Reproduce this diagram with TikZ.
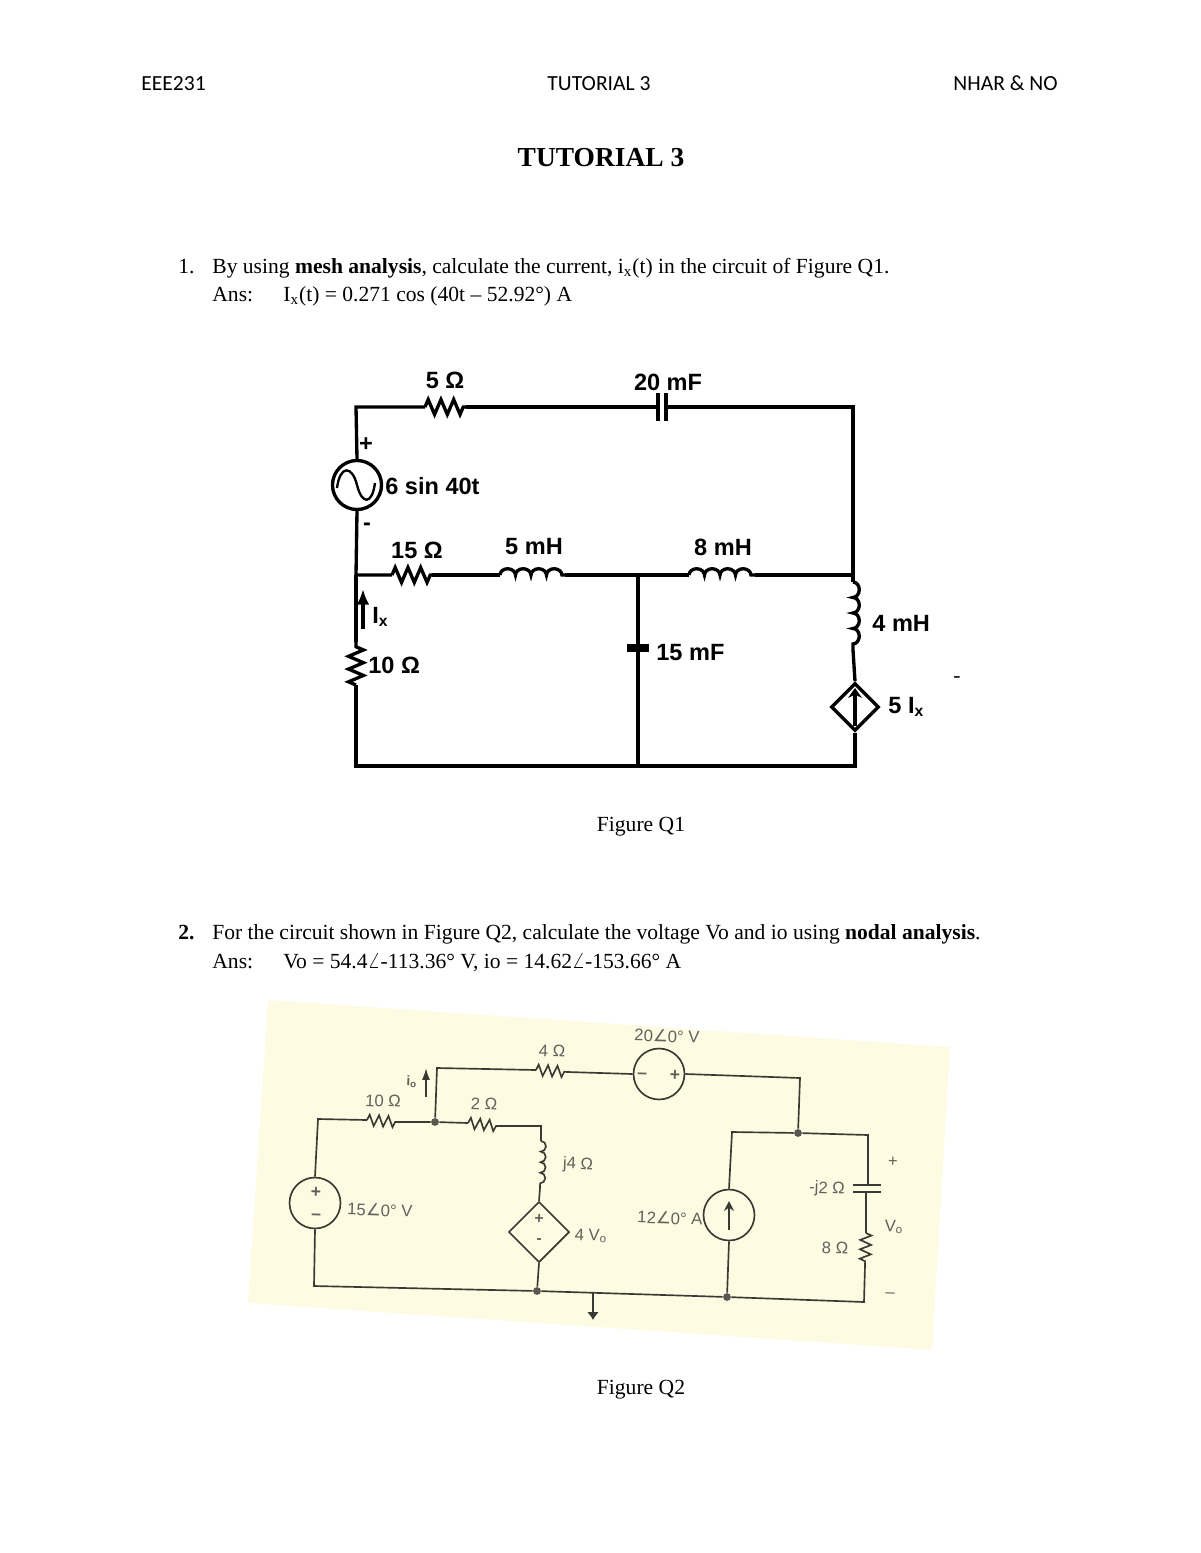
\documentclass[tikz,border=0pt]{standalone}
\usepackage{fontspec}
\setmainfont{Liberation Serif}
\setsansfont{Liberation Sans}
\newfontfamily\headfont{Carlito}
\newfontfamily\symfont{DejaVu Sans}
\usetikzlibrary{shapes.geometric,decorations.pathmorphing,arrows.meta}
\definecolor{paper}{HTML}{FDFCE2}
\definecolor{scanink}{HTML}{3A3A34}
\newcommand{\ang}{{\symfont ∠}}
\tikzset{
    txt/.style={inner sep=0pt,anchor=base west,font=\fontsize{11}{13}\selectfont},
    mid/.style={txt,anchor=base},
    head/.style={inner sep=0pt,anchor=base,font=\headfont\fontsize{11}{13}\selectfont},
    lab/.style={inner sep=0pt,font=\sffamily\bfseries\fontsize{12}{14}\selectfont},
    wire/.style={line width=1.7pt,black,line join=miter},
    res/.style={wire,decorate,decoration={zigzag,segment length=6.5pt,amplitude=3.8pt}},
    ind/.style={wire,decorate,decoration={bumps,segment length=15.8pt,amplitude=3.2pt}},
    src/.style={circle,draw,line width=1.7pt,minimum size=25pt,inner sep=0pt},
    dep/.style={diamond,draw,line width=1.7pt,minimum size=25pt,inner sep=0pt},
    scan/.style={line width=0.85pt,scanink},
    sres/.style={scan,decorate,decoration={zigzag,segment length=4.8pt,amplitude=2.8pt}},
    sind/.style={scan,decorate,decoration={bumps,segment length=10.8pt,amplitude=2.6pt}},
    ssrc/.style={circle,draw=scanink,line width=0.85pt,minimum size=26pt,inner sep=0pt},
    sdep/.style={diamond,draw=scanink,line width=0.85pt,minimum size=31pt,inner sep=0pt},
    sdot/.style={circle,fill=scanink!85,minimum size=4pt,inner sep=0pt},
    slab/.style={inner sep=0pt,text=scanink!80,rotate=-2,font=\sffamily\fontsize{8.5}{10}\selectfont}
}
\begin{document}
\begin{tikzpicture}[x=0.51pt,y=-0.51pt]
        \useasboundingbox (0,0) rectangle (1200,1553);
        \node[head,anchor=base west] (hdrL) at (141,91) {EEE231};
        \node[head] (hdrC) at (599,91) {TUTORIAL 3};
        \node[head,anchor=base east] (hdrR) at (1058,91) {NHAR \& NO};
        \node[mid,font=\bfseries\fontsize{14}{16}\selectfont] (title) at (601,167) {TUTORIAL 3};
        \node[txt] (numA) at (178,273) {1.};
        \node[txt] (lineA) at (212,273) {By using \textbf{mesh analysis}, calculate the current, i\textsubscript{x}(t) in the circuit of Figure Q1.};
        \node[txt] (ansA) at (212,301) {Ans:};
        \node[txt] (valA) at (283,301) {I\textsubscript{x}(t) = 0.271 cos (40t -- 52.92°) A};
        \node[mid] (figA) at (641,831) {Figure Q1};
        \node[txt] (numB) at (178,939) {\textbf{2.}};
        \node[txt] (lineB) at (212,939) {For the circuit shown in Figure Q2, calculate the voltage Vo and io using \textbf{nodal analysis}.};
        \node[txt] (ansB) at (212,968) {Ans:};
        \node[txt] (valB) at (283,968) {Vo = 54.4$\angle$-113.36° V, io = 14.62$\angle$-153.66° A};
        \node[mid] (figB) at (641,1394) {Figure Q2};
        \node[txt,anchor=center] (dash) at (957,680) {-};

        \coordinate (tl) at (356,407);
        \coordinate (tr) at (853,407);
        \coordinate (bl) at (356,766);
        \coordinate (br) at (855,766);
        \coordinate (jl) at (356,575);
        \coordinate (jm) at (638,575);
        \coordinate (jr) at (853,575);
        \coordinate (jb) at (638,766);
        \coordinate (r5a) at (425,407);
        \coordinate (r5b) at (466,407);
        \coordinate (c20a) at (658,407);
        \coordinate (c20b) at (666,407);
        \coordinate (r15a) at (392,575);
        \coordinate (r15b) at (432,575);
        \coordinate (l5a) at (500,575);
        \coordinate (l5b) at (565,575);
        \coordinate (l8a) at (689,575);
        \coordinate (l8b) at (755,575);
        \coordinate (l4a) at (853,582);
        \coordinate (l4b) at (853,650);
        \coordinate (r10a) at (356,642);
        \coordinate (r10b) at (356,685);
        \coordinate (c15a) at (638,648);
        \coordinate (ixa) at (363,629);
        \coordinate (ixb) at (363,589);
        \node[src] (vac) at (357,485) {};
        \node[dep,minimum size=24.5pt] (dcs) at (855,707) {};
        \draw[wire] (vac.north) -- (tl) -- (r5a);
        \draw[res] (r5a) -- (r5b);
        \draw[wire] (r5b) -- (c20a);
        \draw[wire,line width=2.2pt] ([yshift=7pt]c20a) -- ([yshift=-7pt]c20a);
        \draw[wire,line width=2.2pt] ([yshift=7pt]c20b) -- ([yshift=-7pt]c20b);
        \draw[wire] (c20b) -- (tr) -- (jr);
        \draw[wire] (vac.south) -- (jl) -- (r15a);
        \draw[res] (r15a) -- (r15b);
        \draw[wire] (r15b) -- (l5a);
        \draw[ind] (l5a) -- (l5b);
        \draw[wire] (l5b) -- (jm) -- (l8a);
        \draw[ind] (l8a) -- (l8b);
        \draw[wire] (l8b) -- (jr) -- (l4a);
        \draw[ind] (l4a) -- (l4b);
        \draw[wire] (l4b) -- (dcs.north);
        \draw[wire] (dcs.south) -- (br) -- (bl) -- (r10b);
        \draw[res] (r10b) -- (r10a);
        \draw[wire] (r10a) -- (jl);
        \draw[wire] (jm) -- (c15a) -- (jb);
        \draw[wire,line width=4pt] ([xshift=-5.6pt]c15a) -- ([xshift=5.6pt]c15a);
        \draw[wire,-{Latex[length=8pt,width=6.5pt]}] (ixa) -- (ixb);
        \draw[wire,line width=1.2pt] (337,488) .. controls (340,465) and (352,465) .. (357,485) .. controls (362,505) and (372,505) .. (375,483);
        \draw[wire,-{Stealth[length=5pt,width=7pt]}] (855,726) -- (855,688);
        \node[lab] (lblr5) at (445,380) {5 Ω};
        \node[lab] (lblc20) at (668,382) {20 mF};
        \node[lab] (lblp) at (366,445) {+};
        \node[lab] (lblm) at (367,527) {-};
        \node[lab,anchor=west] (lblv) at (385,486) {6 sin 40t};
        \node[lab] (lblr15) at (417,550) {15 Ω};
        \node[lab] (lbll5) at (534,547) {5 mH};
        \node[lab] (lbll8) at (723,547) {8 mH};
        \node[lab,anchor=west] (lbll4) at (872,623) {4 mH};
        \node[lab,anchor=west] (lblc15) at (656,653) {15 mF};
        \node[lab,anchor=west] (lbldcs) at (888,707) {5 I\textsubscript{x}};
        \node[lab,anchor=west] (lblix) at (372,617) {I\textsubscript{x}};
        \node[lab,anchor=west] (lblr10) at (368,665) {10 Ω};

        \fill[paper] (268,1000) -- (950,1047) -- (932,1350) -- (248,1303) -- cycle;
        \coordinate (tlb) at (318,1119);
        \coordinate (blb) at (314,1286);
        \coordinate (r10p) at (367,1120);
        \coordinate (r10q) at (397,1122);
        \node[sdot] (ja) at (435,1122) {};
        \coordinate (topa) at (437,1068);
        \coordinate (r4p) at (536,1070);
        \coordinate (r4q) at (568,1072);
        \coordinate (r2p) at (468,1123);
        \coordinate (r2q) at (497,1126);
        \coordinate (tlr) at (541,1126);
        \coordinate (lj4p) at (541,1141);
        \coordinate (lj4q) at (540,1188);
        \node[sdot] (jc) at (537,1291) {};
        \node[sdot] (jd) at (798,1133) {};
        \node[sdot] (je) at (727,1297) {};
        \coordinate (trb) at (800,1078);
        \coordinate (cs) at (732,1132);
        \coordinate (rtop) at (868,1135);
        \coordinate (cpa) at (868,1185);
        \coordinate (cpb) at (866,1192);
        \coordinate (r8p) at (866,1233);
        \coordinate (r8q) at (865,1265);
        \coordinate (brb) at (864,1302);
        \coordinate (gnda) at (593,1293);
        \coordinate (gndb) at (593,1320);
        \coordinate (ioa) at (426,1097);
        \coordinate (iob) at (426,1068);
        \coordinate (arra) at (729,1230);
        \coordinate (arrb) at (729,1201);
        \node[ssrc] (vs) at (315,1203) {};
        \node[ssrc] (vt) at (659,1074) {};
        \node[ssrc] (is) at (729,1215) {};
        \node[sdep] (vd) at (539,1232) {};
        \draw[scan] (vs.north) -- (tlb) -- (r10p);
        \draw[sres] (r10p) -- (r10q);
        \draw[scan] (r10q) -- (ja) -- (r2p);
        \draw[sres] (r2p) -- (r2q);
        \draw[scan] (r2q) -- (tlr) -- (lj4p);
        \draw[sind] (lj4p) -- (lj4q);
        \draw[scan] (lj4q) -- (vd.north);
        \draw[scan] (vd.south) -- (jc);
        \draw[scan] (ja) -- (topa) -- (r4p);
        \draw[sres] (r4p) -- (r4q);
        \draw[scan] (r4q) -- (vt.west);
        \draw[scan] (vt.east) -- (trb) -- (jd);
        \draw[scan] (is.north) -- (cs) -- (jd) -- (rtop) -- (cpa);
        \draw[scan,line width=1pt] (853,1185) -- (881,1185);
        \draw[scan,line width=1pt] (853,1192) -- (881,1192);
        \draw[scan] (cpb) -- (r8p);
        \draw[sres] (r8p) -- (r8q);
        \draw[scan] (r8q) -- (brb) -- (je) -- (jc) -- (blb) -- (vs.south);
        \draw[scan] (is.south) -- (je);
        \draw[scan,-{Latex[length=4pt,width=6pt]}] (gnda) -- (gndb);
        \draw[scan,-{Latex[length=6pt,width=4pt]}] (ioa) -- (iob);
        \draw[scan,-{Stealth[length=5pt,width=5pt]}] (arra) -- (arrb);
        \node[slab] (tr10) at (383,1101) {10 Ω};
        \node[slab] (tr2) at (484,1104) {2 Ω};
        \node[slab] (tr4) at (552,1051) {4 Ω};
        \node[slab,font=\sffamily\bfseries\fontsize{7}{9}\selectfont] (tio) at (412,1082) {i\textsubscript{o}};
        \node[slab] (tlj4) at (578,1165) {j4 Ω};
        \node[slab] (tvs) at (380,1210) {15\ang0° V};
        \node[slab] (tvd) at (591,1236) {4 V\textsubscript{o}};
        \node[slab] (tvt) at (667,1036) {20\ang0° V};
        \node[slab] (tis) at (670,1218) {12\ang0° A};
        \node[slab] (tc) at (827,1189) {-j2 Ω};
        \node[slab] (tr8) at (835,1248) {8 Ω};
        \node[slab] (tvp) at (893,1162) {+};
        \node[slab] (tvo) at (894,1227) {V\textsubscript{o}};
        \node[slab] (tvm) at (890,1295) {--};
        \node[slab,font=\sffamily\bfseries\fontsize{9}{10}\selectfont] (pvs) at (316,1192) {+};
        \node[slab,font=\sffamily\bfseries\fontsize{9}{10}\selectfont] (mvs) at (316,1217) {--};
        \node[slab,font=\sffamily\bfseries\fontsize{8}{10}\selectfont] (pvd) at (539,1219) {+};
        \node[slab,font=\sffamily\bfseries\fontsize{8}{10}\selectfont] (mvd) at (539,1241) {-};
        \node[slab,font=\sffamily\bfseries\fontsize{9}{10}\selectfont] (mvt) at (642,1076) {--};
        \node[slab,font=\sffamily\bfseries\fontsize{9}{10}\selectfont] (pvt) at (675,1075) {+};
\end{tikzpicture}
\end{document}
